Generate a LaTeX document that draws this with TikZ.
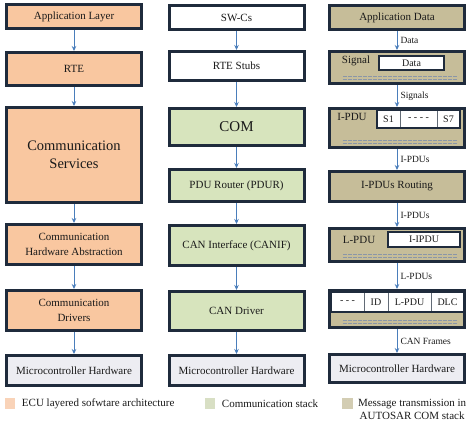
\documentclass[tikz,border=0pt]{standalone}
\usepackage{fontspec}
\setmainfont{Liberation Serif}
\usetikzlibrary{arrows.meta}
\usetikzlibrary{positioning}
\usetikzlibrary{calc}
\usetikzlibrary{fit}

\definecolor{ecuorange}{HTML}{F9C7A0}
\definecolor{commgreen}{HTML}{D7E4BD}
\definecolor{msgtan}{HTML}{C6BD99}
\definecolor{hwgrey}{HTML}{EDEDF2}
\definecolor{edge}{HTML}{1F2B3C}
\definecolor{arrowblue}{HTML}{4A7EBB}
\definecolor{txt}{HTML}{1A1A1A}
\definecolor{dashgrey}{HTML}{8A96A8}
\definecolor{keyorange}{HTML}{F9D3B8}
\definecolor{keygreen}{HTML}{D8DFC4}
\definecolor{keytan}{HTML}{D3CDB3}

\begin{document}
\begin{tikzpicture}[x=1pt, y=-1pt, >={Stealth[length=5pt, width=4.5pt]},
    every node/.style={text=txt, font=\fontsize{11}{14.5}\selectfont},
    layer/.style={draw=edge, line width=3pt, minimum width=135pt, align=center, inner sep=2pt},
    ecu/.style={layer, fill=ecuorange},
    comm/.style={layer, fill=commgreen},
    msg/.style={layer, fill=msgtan},
    hw/.style={layer, fill=hwgrey},
    plain/.style={layer, fill=white},
    cellbox/.style={draw=edge, line width=2.4pt, fill=white, inner sep=0pt, font=\fontsize{10}{12}\selectfont},
    field/.style={draw=edge!70, line width=0.7pt, fill=white, inner sep=0pt, outer sep=0pt, minimum height=18pt, font=\fontsize{10}{12}\selectfont},
    framed/.style={draw=edge, line width=2.4pt, inner sep=0pt},
    rule/.style={draw=dashgrey, line width=0.7pt, dash pattern=on 3.5pt off 1.5pt},
    flow/.style={->, color=arrowblue, line width=1pt},
    lbl/.style={right, inner sep=3pt, font=\fontsize{9.5}{11}\selectfont},
    key/.style={minimum size=10.5pt, inner sep=0pt},
    keytext/.style={font=\fontsize{11}{13}\selectfont}]

    \path[use as bounding box, fill=white] (0,0) rectangle (474,424);

    % ECU layered software architecture
    \node[ecu, minimum height=24pt] (app) at (74,16.5) {Application Layer};
    \node[ecu, minimum height=33pt] (rte) [below = 21pt of app] {RTE};
    \node[ecu, minimum height=95pt, font=\fontsize{14.5}{18}\selectfont] (cs) [below = 19pt of rte] {Communication\\Services};
    \node[ecu, minimum height=40pt] (cha) [below = 19pt of cs] {Communication\\Hardware Abstraction};
    \node[ecu, minimum height=40pt] (cd) [below = 23pt of cha] {Communication\\Drivers};
    \node[hw, minimum height=30pt] (mcu_l) [below = 22pt of cd] {Microcontroller Hardware};

    % communication stack
    \node[plain, minimum height=24pt] (swc) at (236.5,17.5) {SW-Cs};
    \node[plain, minimum height=29pt] (stubs) [below = 19pt of swc] {RTE Stubs};
    \node[comm, minimum height=37pt, font=\fontsize{15}{18}\selectfont] (com) [below = 25pt of stubs] {COM};
    \node[comm, minimum height=32pt] (pdur) [below = 21pt of com] {PDU Router (PDUR)};
    \node[comm, minimum height=40pt] (canif) [below = 21pt of pdur] {CAN Interface (CANIF)};
    \node[comm, minimum height=39pt] (candrv) [below = 23pt of canif] {CAN Driver};
    \node[hw, minimum height=30pt] (mcu_m) [below = 22pt of candrv] {Microcontroller Hardware};

    % message transmission
    \node[msg, minimum height=24pt] (appdata) at (397,17.5) {Application Data};
    \node[msg, minimum height=32pt] (sig) [below = 19pt of appdata] {};
    \node[msg, minimum height=39pt] (ipdu) [below = 22pt of sig] {};
    \node[msg, minimum height=30pt] (routing) [below = 21pt of ipdu] {I-PDUs Routing};
    \node[msg, minimum height=33pt] (lpdu) [below = 24pt of routing] {};
    \node[msg, minimum height=37pt] (frame) [below = 26pt of lpdu] {};
    \node[hw, minimum height=28pt] (mcu_r) [below = 24pt of frame] {Microcontroller Hardware};

    % contents of the message boxes
    \node (sigtext) at (356,61) {Signal};
    \node[cellbox, minimum width=65pt, minimum height=14pt] (sigdata) at (411.5,63) {Data};

    \node (ipdutext) at (352,117) {I-PDU};
    \node[field, minimum width=23pt] (s1) at (388.5,119) {S1};
    \node[field, minimum width=37pt, right = 0pt of s1] (sdots) {- - - -};
    \node[field, minimum width=23pt, right = 0pt of sdots] (s7) {S7};
    \node[framed, fit=(s1)(s7)] (sbox) {};

    \node (lpdutext) at (359,240) {L-PDU};
    \node[cellbox, minimum width=72pt, minimum height=15pt] (ipducell) at (424,239.5) {I-IPDU};

    \node[field, minimum width=33pt, minimum height=20pt] (fdots) at (347.5,302) {- - -};
    \node[field, minimum width=24pt, minimum height=20pt, right = 0pt of fdots] (fid) {ID};
    \node[field, minimum width=43pt, minimum height=20pt, right = 0pt of fid] (fpdu) {L-PDU};
    \node[field, minimum width=33pt, minimum height=20pt, right = 0pt of fpdu] (fdlc) {DLC};
    \node[framed, fit=(fdots)(fdlc)] (fbox) {};

    \foreach \blk in {sig, ipdu, lpdu, frame}
        \foreach \dy in {5.5, 8.5}
            \draw[rule] ($(\blk.south west)+(15,-\dy)$) -- ($(\blk.south east)+(-8,-\dy)$);

    \path[flow]
        (app) edge (rte)
        (rte) edge (cs)
        (cs) edge (cha)
        (cha) edge (cd)
        (cd) edge (mcu_l);

    \path[flow]
        (swc) edge (stubs)
        (stubs) edge (com)
        (com) edge (pdur)
        (pdur) edge (canif)
        (canif) edge (candrv)
        (candrv) edge (mcu_m);

    \path[flow]
        (appdata) edge node[lbl] {Data} (sig)
        (sig) edge node[lbl] {Signals} (ipdu)
        (ipdu) edge node[lbl] {I-PDUs} (routing)
        (routing) edge node[lbl] {I-PDUs} (lpdu)
        (lpdu) edge node[lbl] {L-PDUs} (frame)
        (frame) edge node[lbl] {CAN Frames} (mcu_r);

    % legend
    \node[key, fill=keyorange] (key_ecu) at (10,403.5) {};
    \node[keytext, right = 3pt of key_ecu] (txt_ecu) {ECU layered sofwtare architecture};
    \node[key, fill=keygreen] (key_com) at (210,403.5) {};
    \node[keytext, right = 3pt of key_com] (txt_com) {Communication stack};
    \node[key, fill=keytan] (key_msg) at (347.5,403.5) {};
    \node[keytext, anchor=north west, align=center] (txt_msg) at (354.5,396) {Message transmission in\\AUTOSAR COM stack};

\end{tikzpicture}
\end{document}
